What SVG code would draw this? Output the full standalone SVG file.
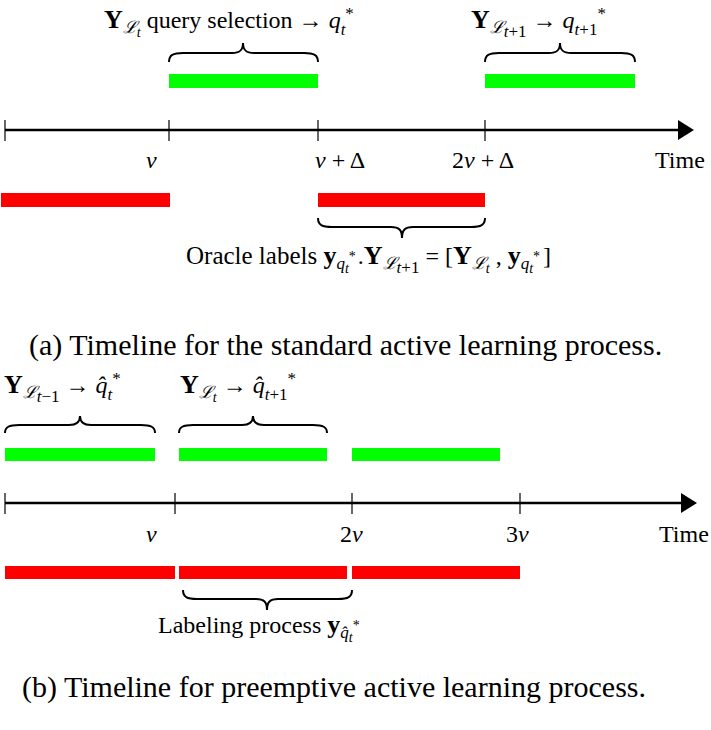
<svg xmlns="http://www.w3.org/2000/svg" width="711" height="730" viewBox="0 0 711 730">
<style>
text{font-family:"Liberation Serif","DejaVu Serif",serif;font-size:24px;fill:#000}
.b{font-weight:bold;font-size:26px}
.i{font-style:italic}
.s{font-size:17px}
.xs{font-size:14px}
.ax{stroke:#000;stroke-width:2.5;fill:none}
.tk{stroke:#000;stroke-width:1.2}
.br{stroke:#000;stroke-width:2;fill:none}
.g{fill:#00ff00}
.r{fill:#ff0000}
.cap{font-size:30px}
</style>
<rect width="711" height="730" fill="#fff"/>
<g id="connectors">
<line class="ax" x1="5" y1="130" x2="680" y2="130"/><path d="M678,120 L694,130 L678,140z"/>
<line class="tk" x1="5" y1="120" x2="5" y2="141"/><line class="tk" x1="169" y1="120" x2="169" y2="141"/><line class="tk" x1="318" y1="120" x2="318" y2="141"/><line class="tk" x1="485" y1="120" x2="485" y2="141"/>
<path class="br" d="M169,62 C169,55 173,53 183,53 L232,53 C240,53 243,50 243,43 C243,50 246,53 254,53 L304,53 C314,53 318,55 318,62"/>
<path class="br" d="M485,62 C485,55 489,53 499,53 L549,53 C557,53 560,50 560,43 C560,50 563,53 571,53 L621,53 C631,53 635,55 635,62"/>
<path class="br" d="M318,218 C318,225 322,227 332,227 L391,227 C399,227 402,230 402,238 C402,230 405,227 413,227 L471,227 C481,227 485,225 485,218"/>
<line class="ax" x1="5" y1="503" x2="682" y2="503"/><path d="M681,493 L697,503 L681,513z"/>
<line class="tk" x1="5" y1="493" x2="5" y2="514"/><line class="tk" x1="175" y1="493" x2="175" y2="514"/><line class="tk" x1="352" y1="493" x2="352" y2="514"/><line class="tk" x1="520" y1="493" x2="520" y2="514"/>
<path class="br" d="M5,433 C5,427 9,425 19,425 L69,425 C77,425 80,422 80,416 C80,422 83,425 91,425 L141,425 C151,425 155,427 155,433"/>
<path class="br" d="M179,433 C179,427 183,425 193,425 L242,425 C250,425 253,422 253,416 C253,422 256,425 264,425 L313,425 C323,425 327,427 327,433"/>
<path class="br" d="M183,590 C183,597 187,599 197,599 L256,599 C264,599 267,602 267,610 C267,602 270,599 278,599 L338,599 C348,599 352,597 352,590"/>
</g>
<g id="bars-a">
<rect class="g" x="169" y="74" width="149" height="14"/><rect class="g" x="485" y="74" width="150" height="14"/>
<rect class="r" x="1" y="193" width="169" height="14"/><rect class="r" x="318" y="193" width="167" height="14"/>
</g>
<g id="bars-b">
<rect class="g" x="5" y="448" width="150" height="13"/><rect class="g" x="179" y="448" width="148" height="13"/><rect class="g" x="352" y="448" width="148" height="13"/>
<rect class="r" x="5" y="566" width="170" height="13"/><rect class="r" x="179" y="566" width="168" height="13"/><rect class="r" x="352" y="566" width="168" height="13"/>
</g>
<g id="labels-a">
<text x="104" y="28"><tspan class="b">Y</tspan><tspan class="i s" dy="5">ℒ</tspan><tspan class="i xs" dy="4">t</tspan><tspan dy="-9" dx="6">query selection → </tspan><tspan class="i">q</tspan><tspan class="i s" dy="7">t</tspan><tspan class="s" dy="-16">*</tspan></text>
<text x="471" y="28"><tspan class="b">Y</tspan><tspan class="i s" dy="5">ℒ</tspan><tspan class="i s" dy="4">t</tspan><tspan class="s">+1</tspan><tspan dy="-9" dx="6">→ </tspan><tspan class="i">q</tspan><tspan class="i s" dy="7">t</tspan><tspan class="s">+1</tspan><tspan class="s" dy="-16">*</tspan></text>
<text class="i" x="146" y="168">ν</text>
<text x="315" y="168"><tspan class="i">ν</tspan> + Δ</text>
<text x="452" y="168">2<tspan class="i">ν</tspan> + Δ</text>
<text x="655" y="168" font-size="25">Time</text>
<text x="186" y="264"><tspan font-size="25">Oracle labels </tspan><tspan class="b">y</tspan><tspan class="i s" dy="5">q</tspan><tspan class="i xs" dy="4">t</tspan><tspan class="xs" dy="-12">*</tspan><tspan dy="3" dx="2">.</tspan><tspan class="b">Y</tspan><tspan class="i s" dy="5">ℒ</tspan><tspan class="i s" dy="4">t</tspan><tspan class="s">+1</tspan><tspan dy="-9">  =  [</tspan><tspan class="b">Y</tspan><tspan class="i s" dy="5">ℒ</tspan><tspan class="i xs" dy="4">t</tspan><tspan dy="-9"> , </tspan><tspan class="b">y</tspan><tspan class="i s" dy="5">q</tspan><tspan class="i xs" dy="4">t</tspan><tspan class="xs" dy="-12">*</tspan><tspan dy="3" dx="3">]</tspan></text>
<text class="cap" x="29" y="355">(a) Timeline for the standard active learning process.</text>
</g>
<g id="labels-b">
<text x="4" y="393"><tspan class="b">Y</tspan><tspan class="i s" dy="5">ℒ</tspan><tspan class="i s" dy="4">t</tspan><tspan class="s">−1</tspan><tspan dy="-9" dx="6">→ </tspan><tspan class="i">q̂</tspan><tspan class="i s" dy="7">t</tspan><tspan class="s" dy="-16">*</tspan></text>
<text x="180" y="393"><tspan class="b">Y</tspan><tspan class="i s" dy="5">ℒ</tspan><tspan class="i xs" dy="4">t</tspan><tspan dy="-9" dx="6">→ </tspan><tspan class="i">q̂</tspan><tspan class="i s" dy="7">t</tspan><tspan class="s">+1</tspan><tspan class="s" dy="-16">*</tspan></text>
<text class="i" x="146" y="542">ν</text>
<text x="340" y="542">2<tspan class="i">ν</tspan></text>
<text x="506" y="542">3<tspan class="i">ν</tspan></text>
<text x="659" y="542" font-size="25">Time</text>
<text x="158" y="633"><tspan font-size="24">Labeling process </tspan><tspan class="b">y</tspan><tspan class="i s" dy="5">q̂</tspan><tspan class="i xs" dy="4">t</tspan><tspan class="xs" dy="-12">*</tspan></text>
<text class="cap" x="22" y="697">(b) Timeline for preemptive active learning process.</text>
</g>
</svg>
